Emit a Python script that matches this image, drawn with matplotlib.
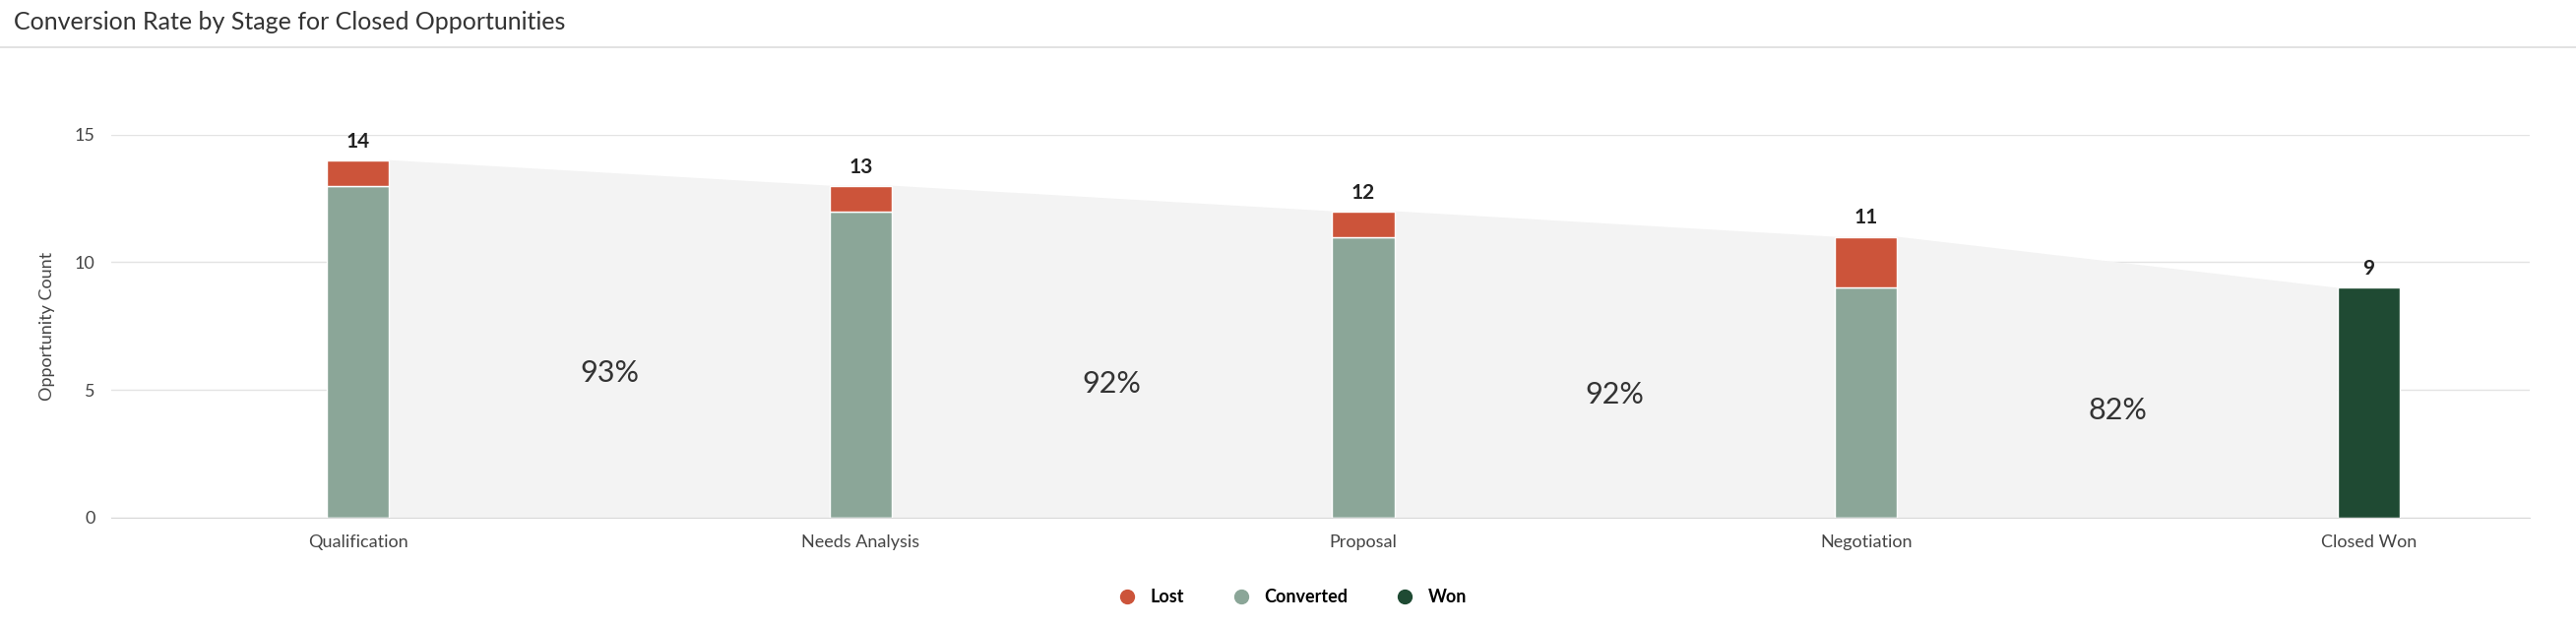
import matplotlib
matplotlib.use("Agg")
import matplotlib.pyplot as plt
from matplotlib.lines import Line2D

stages = ["Qualification", "Needs Analysis", "Proposal", "Negotiation", "Closed Won"]
converted = [13, 12, 11, 9, 0]
lost = [1, 1, 1, 2, 0]
won = [0, 0, 0, 0, 9]
totals = [14, 13, 12, 11, 9]
rates = ["93%", "92%", "92%", "82%"]

C_LOST, C_CONV, C_WON = "#cc543a", "#8ba698", "#1f4a33"
plt.rcParams['font.family'] = ['Lato', 'DejaVu Sans']

fig = plt.figure(figsize=(26.17, 6.36), dpi=100)
ax = fig.add_axes([0.0433, 0.173, 0.9387, 0.612])
w = 0.124
x = list(range(len(stages)))

# funnel background
px, py = [], []
for i in range(len(stages) - 1):
    px += [x[i] + w / 2, x[i + 1] - w / 2]
    py += [totals[i], totals[i + 1]]
ax.fill(px + px[::-1], py + [0] * len(py), color="#f3f3f3", zorder=1, lw=0)

ax.bar(x, converted, w, color=C_CONV, edgecolor="white", lw=1, zorder=3)
ax.bar(x, lost, w, bottom=converted, color=C_LOST, edgecolor="white", lw=1, zorder=3)
ax.bar(x, won, w, color=C_WON, edgecolor="white", lw=1, zorder=3)

for i, t in enumerate(totals):
    ax.text(x[i], t + 0.35, str(t), ha="center", va="bottom", fontsize=15,
            fontweight="bold", color="#222222", zorder=4)
for i, r in enumerate(rates):
    ym = 0.42 * (totals[i] + totals[i + 1]) / 2
    ax.text((x[i] + x[i + 1]) / 2, ym, r, ha="center", va="center", fontsize=22,
            color="#333333", zorder=4)

ax.set_xlim(-0.49, 4.32)
ax.set_ylim(0, 15)
ax.set_yticks([0, 5, 10, 15])
ax.set_xticks(x)
ax.set_xticklabels(stages)
ax.tick_params(axis="both", labelsize=13, colors="#444444", length=0, pad=12)
ax.grid(axis="y", color="#e3e3e3", lw=1, zorder=0)
ax.set_axisbelow(True)
for s in ["top", "right", "left"]:
    ax.spines[s].set_visible(False)
ax.spines["bottom"].set_color("#d8d8d8")
ax.set_ylabel("Opportunity Count", fontsize=13, color="#444444", labelpad=14)

fig.text(0.0055, 0.965, "Conversion Rate by Stage for Closed Opportunities",
         fontsize=18, color="#333333", va="center")
fig.add_artist(Line2D([0, 1], [0.924, 0.924], color="#dddddd", lw=1.2))

handles = [Line2D([], [], marker="o", ls="", color=c, markersize=10) for c in (C_LOST, C_CONV, C_WON)]
fig.legend(handles, ["Lost", "Converted", "Won"], loc="center", bbox_to_anchor=(0.5, 0.0 + 0.427 * 0.0 + 0.046),
           ncol=3, frameon=False, fontsize=13, handletextpad=0.3, columnspacing=2.2,
           prop={"weight": "bold", "size": 13})
fig.savefig("out.png", dpi=100)
